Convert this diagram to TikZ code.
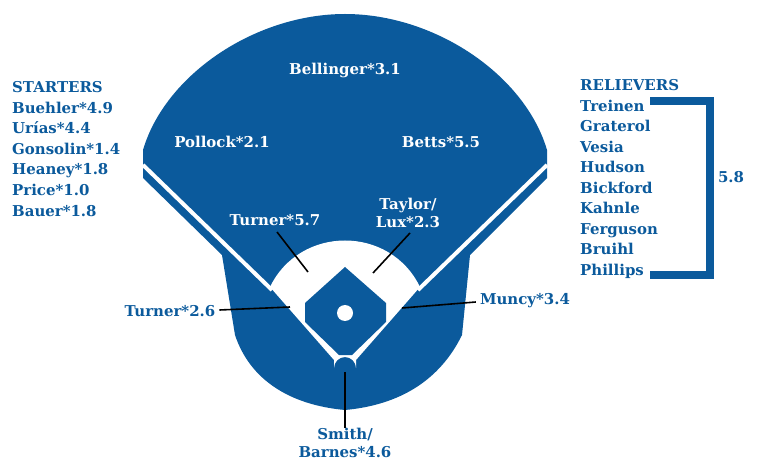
\documentclass[tikz,border=0pt]{standalone}
\usepackage{fontspec}
\setmainfont{DejaVu Serif}
\usetikzlibrary{positioning}
\definecolor{dodger}{HTML}{0B5A9C}
\begin{document}
\begin{tikzpicture}[
	x=1bp, y=-1bp,
	every node/.style = {font=\bfseries\fontsize{15}{18}\selectfont, inner sep=0pt},
	blue lbl/.style = {text=dodger},
	white lbl/.style = {text=white},
	lead/.style = {draw=black, line width=1.6pt},
	roster/.style = {blue lbl, anchor=west, align=left, font=\bfseries\fontsize{15}{20.6}\selectfont}
]
\useasboundingbox (0,0) rectangle (768,468);
% field
\fill[dodger] (143,150) .. controls (165,75) and (255,14) .. (345,14)
	.. controls (435,14) and (525,75) .. (547,150) -- (547,178) -- (470,255)
	-- (462,335) .. controls (440,380) and (400,405) .. (345,410)
	.. controls (290,405) and (250,380) .. (235,335) -- (222,255) -- (143,178) -- cycle;
% foul lines
\draw[white, line width=4pt] (143,165) -- (272,290);
\draw[white, line width=4pt] (547,165) -- (418,290);
% infield dirt
\fill[white] (270,287) .. controls (300,225) and (390,225) .. (420,287)
	-- (356,360) -- (356,368) arc[start angle=0, end angle=-180, radius=11] -- (334,360) -- cycle;
\fill[dodger] (345,267) -- (386,303) -- (386,322) -- (352,355) -- (339,355) -- (305,322) -- (305,303) -- cycle;
\fill[white] (345,313) circle[radius=8];
% outfield and infield
\node[white lbl] (cf) at (345,70) {Bellinger*3.1};
\node[white lbl] (lf) at (222,142) {Pollock*2.1};
\node[white lbl] (rf) at (441,142) {Betts*5.5};
\node[white lbl] (ss) at (275,220) {Turner*5.7};
\node[white lbl, align=center] (sb) at (408,213) {Taylor/\\Lux*2.3};
\node[blue lbl] (tb) at (170,311) {Turner*2.6};
\node[blue lbl] (fb) at (525,301) {Muncy*3.4};
\node[blue lbl, align=center] (ca) at (345,443) {Smith/\\Barnes*4.6};
\coordinate (ssP) at (308,272);
\coordinate (sbP) at (373,273);
\coordinate (tbP) at (290,307);
\coordinate (fbP) at (402,308);
\coordinate (caP) at (345,372);
\draw[lead] (277,232) -- (ssP);
\draw[lead] (410,233) -- (sbP);
\draw[lead] (tb.east) ++(4,-1) -- (tbP);
\draw[lead] (fb.west) ++(-4,1) -- (fbP);
\draw[lead] (ca.north) -- (caP);
% rosters
\node[roster] (sp) at (12,149) {STARTERS\\Buehler*4.9\\Urías*4.4\\Gonsolin*1.4\\Heaney*1.8\\Price*1.0\\Bauer*1.8};
\node[roster] (rp) at (580,179) {RELIEVERS\\Treinen\\Graterol\\Vesia\\Hudson\\Bickford\\Kahnle\\Ferguson\\Bruihl\\Phillips};
\draw[dodger, line width=8pt, line join=miter] (650,101) -- (710,101) -- (710,275) -- (650,275);
\node[blue lbl] (war) at (731,177) {5.8};
\end{tikzpicture}
\end{document}
